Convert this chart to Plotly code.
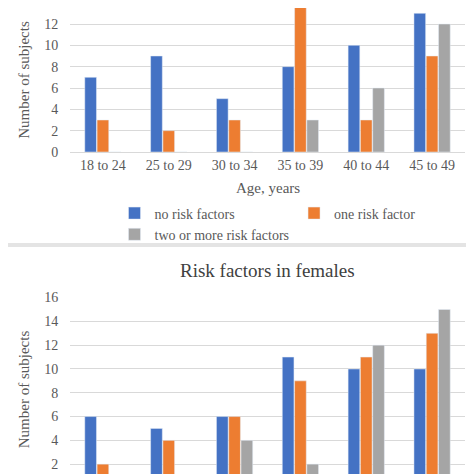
import plotly.graph_objects as go

categories = ["18 to 24", "25 to 29", "30 to 34", "35 to 39", "40 to 44", "45 to 49"]
series_names = ["no risk factors", "one risk factor", "two or more risk factors"]
male_none = [7, 9, 5, 8, 10, 13]
male_one = [3, 2, 3, 14, 3, 9]
male_two = [0, 0, 0, 3, 6, 12]
female_none = [6, 5, 6, 11, 10, 10]
female_one = [2, 4, 6, 9, 11, 13]
female_two = [0, 0, 4, 2, 12, 15]
colors = ["#4472C4", "#ED7D31", "#A5A5A5"]

H = 474.0
def py(px):
    return 1 - px / H

FAM = "Liberation Serif"
fig = go.Figure()
for name, vals, c in zip(series_names, [male_none, male_one, male_two], colors):
    fig.add_trace(go.Bar(x=categories, y=vals, name=name, marker_color=c,
                         xaxis="x", yaxis="y", showlegend=True))
for name, vals, c in zip(series_names, [female_none, female_one, female_two], colors):
    fig.add_trace(go.Bar(x=categories, y=vals, name=name, marker_color=c,
                         xaxis="x2", yaxis="y2", showlegend=False))

tf = dict(family=FAM, size=14, color="#595959")
fig.update_layout(
    width=474, height=474, margin=dict(l=62, r=17, t=0, b=0, autoexpand=False),
    paper_bgcolor="white", plot_bgcolor="white", font=dict(family=FAM, size=14, color="#595959"),
    barmode="group", bargap=0.44, bargroupgap=0.05,
    xaxis=dict(domain=[0, 1], anchor="y", showgrid=False, linecolor="#D9D9D9",
               ticks="", tickfont=tf, automargin=False),
    yaxis=dict(domain=[py(144), 1], range=[0, 13.5], dtick=2, gridcolor="#D9D9D9",
               zeroline=False, tickfont=tf, ticks="outside", ticklen=8, tickcolor="white",
               automargin=False,
               title=dict(text="Number of subjects", font=dict(family=FAM, size=15), standoff=10)),
    xaxis2=dict(domain=[0, 1], anchor="y2", showgrid=False, showticklabels=False, ticks="",
                automargin=False),
    yaxis2=dict(domain=[0, py(289)], range=[0.5, 16.05], dtick=2, gridcolor="#D9D9D9",
                zeroline=False, tickfont=tf, ticks="outside", ticklen=8, tickcolor="white",
                automargin=False,
                title=dict(text="Number of subjects", font=dict(family=FAM, size=15), standoff=10)),
    legend=dict(orientation="h", x=0.5, xanchor="center", y=py(216), yanchor="middle",
                font=dict(family=FAM, size=14), entrywidth=0, itemwidth=30,
                bgcolor="rgba(0,0,0,0)", traceorder="normal", tracegroupgap=0),
    annotations=[
        dict(text="Age, years", x=0.5, xref="paper", y=py(180), yref="paper",
             showarrow=False, font=dict(family=FAM, size=15)),
        dict(text="Risk factors in females", x=0.5, xref="paper", y=py(262), yref="paper",
             showarrow=False, font=dict(family=FAM, size=19, color="#404040")),
    ],
    shapes=[dict(type="rect", xref="paper", yref="paper", x0=-0.2, x1=1.1,
                 y0=py(239), y1=py(235), fillcolor="#E4E4E4", line_width=0, layer="below")],
)
fig.write_html("out.html")
